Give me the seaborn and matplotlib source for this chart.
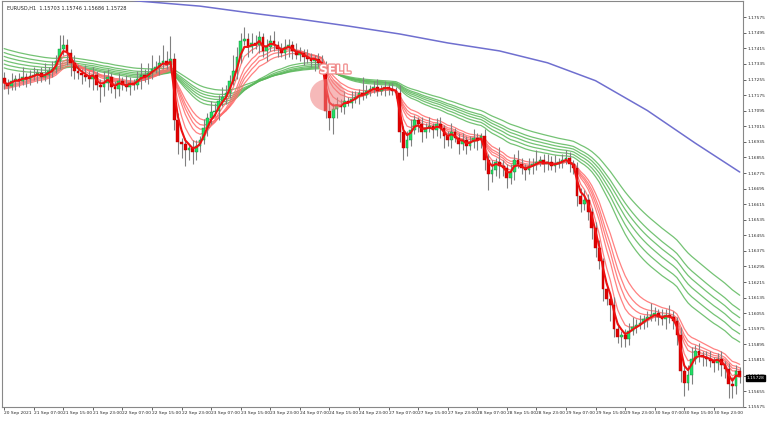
import numpy as np
import pandas as pd
import matplotlib
matplotlib.use("Agg")
import matplotlib.pyplot as plt
import matplotlib.patheffects as pe
import seaborn as sns
from matplotlib.patches import Ellipse

sns.set_style("white")
plt.rcParams['font.family'] = ['DejaVu Sans']

# ---- data ----
closes = [
1.17239,1.17223,1.17249,1.17259,1.17249,1.17270,1.17259,1.17274,1.17279,1.17290,
1.17270,1.17280,1.17300,1.17310,1.17351,1.17412,1.17433,1.17392,1.17341,1.17300,
1.17290,1.17280,1.17270,1.17259,1.17280,1.17229,1.17218,1.17239,1.17270,1.17218,
1.17208,1.17249,1.17229,1.17218,1.17239,1.17229,1.17259,1.17280,1.17270,1.17290,
1.17310,1.17320,1.17341,1.17351,1.17330,1.17361,1.17045,1.16933,1.16923,1.16892,
1.16902,1.16882,1.16912,1.16943,1.17004,1.17055,1.17086,1.17096,1.17147,1.17167,
1.17188,1.17249,1.17300,1.17371,1.17453,1.17463,1.17422,1.17443,1.17433,1.17473,
1.17402,1.17422,1.17453,1.17433,1.17412,1.17392,1.17422,1.17433,1.17402,1.17381,
1.17392,1.17371,1.17361,1.17351,1.17361,1.17341,1.17330,1.17096,1.17055,1.17106,
1.17126,1.17116,1.17147,1.17137,1.17157,1.17167,1.17188,1.17178,1.17198,1.17208,
1.17218,1.17198,1.17208,1.17218,1.17208,1.17198,1.17188,1.16984,1.16902,1.16943,
1.16994,1.17045,1.17025,1.16984,1.17004,1.17014,1.16994,1.17025,1.17004,1.16963,
1.16943,1.16984,1.16953,1.16923,1.16943,1.16912,1.16933,1.16953,1.16943,1.16963,
1.16841,1.16770,1.16790,1.16831,1.16810,1.16800,1.16749,1.16780,1.16841,1.16820,
1.16800,1.16790,1.16810,1.16820,1.16831,1.16841,1.16820,1.16831,1.16810,1.16820,
1.16831,1.16841,1.16851,1.16820,1.16800,1.16657,1.16617,1.16637,1.16576,1.16494,
1.16392,1.16321,1.16178,1.16127,1.16097,1.15975,1.15934,1.15944,1.15924,1.15965,
1.15985,1.15995,1.16005,1.16026,1.16036,1.16046,1.16056,1.16036,1.16026,1.16046,
1.16036,1.16015,1.15944,1.15760,1.15699,1.15740,1.15822,1.15862,1.15842,1.15832,
1.15822,1.15811,1.15801,1.15822,1.15791,1.15771,1.15689,1.15679,1.15760,1.15728]
open0 = 1.17264
upper_wick_pips = [
3,2,4,2,3,5,2,3,4,2, 3,6,2,4,3,7,5,3,2,4, 3,2,5,3,4,2,3,6,4,2,
3,4,2,5,3,2,4,6,3,5, 7,3,4,8,5,12,3,4,2,3, 2,4,3,2,5,3,6,4,3,5,
4,3,8,5,4,6,3,5,4,3, 2,4,3,5,2,3,4,3,2,4, 3,2,4,3,2,3,4,2,5,3,
4,3,5,2,4,3,2,8,3,2, 3,4,2,3,2,3,2,4,3,5, 6,3,2,4,3,5,2,3,4,2,
3,5,2,3,4,2,3,5,3,2, 4,3,5,2,8,3,2,4,3,5, 3,2,4,3,6,2,3,4,3,5,
2,3,4,3,2,3,4,5,3,2, 3,4,2,3,2,4,3,2,3,4, 5,3,4,2,3,6,3,2,4,3,
5,3,2,4,3,5,6,3,4,2, 3,4,2,3,4,2,3,4,3,2]
lower_wick_pips = [
3,4,2,5,3,2,4,3,2,4, 3,2,5,3,2,4,3,6,7,4, 3,5,2,4,6,3,8,5,4,3,
5,4,3,2,4,3,2,5,3,4, 3,2,4,3,2,3,5,6,7,8, 5,6,4,3,2,4,3,2,5,3,
4,3,2,4,3,2,5,3,2,4, 3,5,2,3,4,2,3,5,4,2, 3,4,2,3,5,2,3,4,6,8,
5,3,4,2,3,2,4,3,2,3, 2,3,2,4,3,2,3,5,6,4, 3,2,4,5,3,2,4,3,5,6,
3,4,2,5,3,4,2,3,5,4, 5,8,4,3,6,4,5,3,4,2, 3,5,2,4,3,2,4,3,2,3,
2,3,2,4,3,5,4,3,4,6, 5,4,6,3,8,4,3,5,4,3, 2,3,2,3,4,2,3,4,3,5,
3,4,5,6,7,4,5,3,4,5, 4,3,5,4,6,5,7,6,4,3]
fast_periods = [3, 5, 8, 10, 12, 15]
slow_periods = [30, 35, 40, 45, 50, 60]
fast_seed = [1.17239, 1.17229, 1.17218, 1.17213, 1.17208, 1.17203]
slow_seed = [1.17320, 1.17340, 1.17360, 1.17380, 1.17400, 1.17420]
slow_ma_bars = [30, 37, 53, 67, 80, 93, 107, 120, 134, 147, 160, 174, 187, 199]
slow_ma_vals = [1.17672, 1.17657, 1.17632, 1.17596, 1.17565, 1.17530, 1.17489,
                1.17443, 1.17402, 1.17341, 1.17249, 1.17096, 1.16928, 1.16780]
tick_labels_x = ["20 Sep 2021", "21 Sep 07:00", "21 Sep 15:00", "21 Sep 23:00",
    "22 Sep 07:00", "22 Sep 15:00", "22 Sep 23:00", "23 Sep 07:00", "23 Sep 15:00",
    "23 Sep 23:00", "24 Sep 07:00", "24 Sep 15:00", "24 Sep 23:00", "27 Sep 07:00",
    "27 Sep 15:00", "27 Sep 23:00", "28 Sep 07:00", "28 Sep 15:00", "28 Sep 23:00",
    "29 Sep 07:00", "29 Sep 15:00", "29 Sep 23:00", "30 Sep 07:00", "30 Sep 15:00",
    "30 Sep 23:00"]
header = "EURUSD,H1  1.15703 1.15746 1.15686 1.15728"

# ---- derived ----
n = len(closes)
c = np.array(closes)
o = np.concatenate([[open0], c[:-1]])
hi = np.maximum(o, c) + np.array(upper_wick_pips) * 0.0001
lo = np.minimum(o, c) - np.array(lower_wick_pips) * 0.0001
idx = np.arange(n)

def ema(vals, p, seed):
    a = 2.0 / (p + 1)
    out = []
    e = seed
    for v in vals:
        e = e + a * (v - e)
        out.append(e)
    return np.array(out)

fig = plt.figure(figsize=(7.68, 4.21), dpi=100)
ax = fig.add_axes([0.003, 0.034, 0.965, 0.963])

rows = []
for p, s in zip(slow_periods, slow_seed):
    for i, v in enumerate(ema(c, p, s)):
        rows.append(("s%d" % p, i, v))
slow_df = pd.DataFrame(rows, columns=["line", "bar", "price"])
sns.lineplot(data=slow_df, x="bar", y="price", units="line", estimator=None,
             color="#5cb85c", lw=0.9, alpha=0.85, ax=ax)
rows = []
for p, s in zip(fast_periods[1:], fast_seed[1:]):
    for i, v in enumerate(ema(c, p, s)):
        rows.append(("f%d" % p, i, v))
fast_df = pd.DataFrame(rows, columns=["line", "bar", "price"])
sns.lineplot(data=fast_df, x="bar", y="price", units="line", estimator=None,
             color="#ff6b6b", lw=0.9, alpha=0.85, ax=ax)

# candles
up = c >= o
ax.vlines(idx, lo, hi, color="#808080", lw=0.8, zorder=3)
ax.bar(idx[up], (c - o)[up], bottom=o[up], width=0.75, color="#22dd66",
       edgecolor="#118833", lw=0.3, zorder=4)
ax.bar(idx[~up], (c - o)[~up], bottom=o[~up], width=0.75, color="#e00000",
       edgecolor="#b00000", lw=0.3, zorder=4)

fast = ema(c, fast_periods[0], fast_seed[0])
sns.lineplot(x=idx, y=fast, color="#ee1111", lw=1.5, ax=ax, zorder=5)
sns.lineplot(x=slow_ma_bars, y=slow_ma_vals, color="#6f6fcf", lw=1.1, ax=ax, zorder=5)

# sell signal
ax.add_patch(Ellipse((87.5, 1.17175), 9.5, 0.00165, color="#f08080", alpha=0.55,
                     lw=0, zorder=6))
ax.text(89.5, 1.17305, "SELL", color="white", fontsize=8.5, fontweight="bold",
        ha="center", va="center", zorder=7,
        path_effects=[pe.withStroke(linewidth=1.8, foreground="#f08a8a")])

ax.set_xlim(-0.5, 200)
ax.set_ylim(1.15580, 1.17657)
ax.set_xlabel("")
ax.set_ylabel("")
if ax.get_legend():
    ax.get_legend().remove()

yt = [1.15575 + k * 0.0008 for k in range(26)]
ax.yaxis.tick_right()
ax.set_yticks(yt)
ax.set_yticklabels(["%.5f" % v for v in yt], fontsize=3.1)
ax.set_xticks(np.arange(0, 200, 8))
ax.set_xticklabels(tick_labels_x, fontsize=3.2, ha="left")
ax.tick_params(axis="both", length=2, width=0.5, pad=1.0, direction="out",
               right=True, bottom=True)
for s in ax.spines.values():
    s.set_color("#888888")
    s.set_linewidth(0.8)

ax.text(0.006, 0.99, header, transform=ax.transAxes, fontsize=3.6, va="top", ha="left")
ax.text(1.004, (1.15728 - 1.15580) / (1.17657 - 1.15580), "1.15728",
        transform=ax.transAxes, fontsize=3.1, color="white", va="center", ha="left",
        zorder=10, bbox=dict(boxstyle="square,pad=0.2", fc="black", ec="black"))

fig.savefig("out.png", dpi=100)
